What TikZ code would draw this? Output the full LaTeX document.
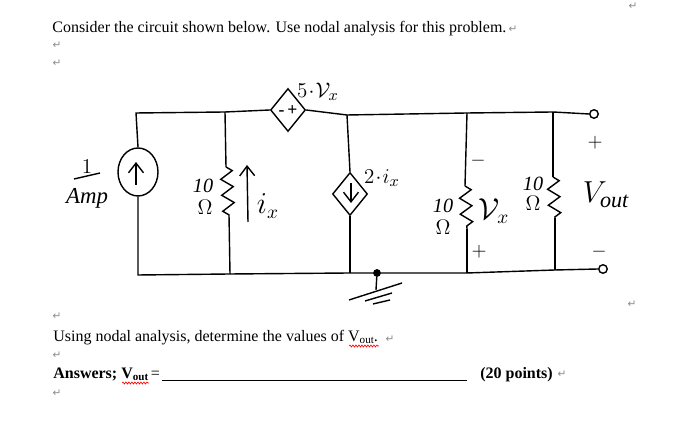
\documentclass[tikz,border=0pt]{standalone}
\usepackage{fontspec}
\setmainfont{Liberation Serif}
\newfontfamily\symfont{DejaVu Sans}
\usetikzlibrary{arrows.meta,shapes.geometric,decorations.pathmorphing}

\newcommand{\subout}{\raisebox{-0.9pt}{\fontsize{6.3}{7}\selectfont out}}

\tikzset{
	wire/.style={line width=0.8pt},
	ah/.style={-{Straight Barb[length=5.5pt,width=8.5pt]}},
	zig/.style={wire,decorate,decoration={zigzag,segment length=0.32cm,amplitude=0.12cm}},
	spell/.style={red,line width=0.35pt,decorate,decoration={snake,segment length=0.06cm,amplitude=0.02cm}},
	body/.style={anchor=base west,inner sep=0pt,font=\fontsize{9.1}{11}\selectfont},
	retmark/.style={inner sep=0pt,text=black!45,font=\symfont\fontsize{6}{7}\selectfont},
	hand/.style={inner sep=0pt,font=\fontsize{11.5}{14}\selectfont},
	depsrc/.style={draw,wire,diamond,inner sep=0pt,minimum width=0.7cm,minimum height=0.86cm},
	terminal/.style={draw,wire,circle,fill=white,inner sep=0pt,minimum size=0.17cm}
}

\begin{document}
\begin{tikzpicture}[x=0.02cm,y=-0.02cm]
	\useasboundingbox[fill=white] (0,0) rectangle (684,431);

	% page text
	\node[body] (line1) at (52,33) {Consider the circuit shown below. Use nodal analysis for this problem.};
	\node[body] (line2) at (53,342) {Using nodal analysis, determine the values of V\subout.};
	\node[body] (line3) at (53,379) {\textbf{Answers; V\subout}\hspace{-0.7pt} =};
	\node[body] (line4) at (480,379) {\textbf{(20 points)}};
	\coordinate (ruleL) at (162,380);
	\coordinate (ruleR) at (467,380);
	\draw[line width=0.5pt] (ruleL) -- (ruleR);
	\coordinate (sp1a) at (349,346);
	\coordinate (sp1b) at (379,346);
	\coordinate (sp2a) at (122,383);
	\coordinate (sp2b) at (149,383);
	\draw[spell] (sp1a) -- (sp1b);
	\draw[spell] (sp2a) -- (sp2b);
	\foreach \px/\py [count=\n] in {633/6,513/29,57/45,57/63,57/316,390/339,57/355,562/374,57/393,632/304}
		\node[retmark] (ret\n) at (\px,\py) {↵};

	% sources
	\node[draw,wire,ellipse,inner sep=0pt,minimum width=0.8cm,minimum height=0.96cm] (isrc) at (138,172) {};
	\node[depsrc] (vsrc) at (288,110) {};
	\node[inner sep=0pt,font=\fontsize{10}{11}\selectfont] (vsrcsign) at (288,111) {\textbf{-\,+}};
	\node[depsrc] (csrc) at (350,194) {};
	\coordinate (isrca) at (136,185);
	\coordinate (isrcb) at (136,162);
	\draw[wire,ah] (isrca) -- (isrcb);
	\coordinate (csrca) at (351,183);
	\coordinate (csrcb) at (351,203);
	\draw[wire,ah] (csrca) -- (csrcb);

	% terminals and ground dot
	\node[terminal] (outtop) at (594,114) {};
	\node[terminal] (outbot) at (603,269) {};
	\node[draw,circle,fill=black,inner sep=0pt,minimum size=0.14cm] (gnddot) at (377,273) {};

	% top rail
	\coordinate (tl) at (136,113);
	\coordinate (r1t) at (225,112);
	\coordinate (n1) at (347,115);
	\coordinate (r2t) at (467,113);
	\coordinate (r3t) at (553,112);
	\draw[wire] (isrc.north) -- (tl) -- (r1t) -- (vsrc.west);
	\draw[wire] (vsrc.east) -- (n1) -- (r2t) -- (r3t) -- (outtop.west);

	% bottom rail
	\coordinate (bl) at (138,275);
	\coordinate (r1b) at (230,274);
	\coordinate (n2) at (350,273);
	\coordinate (r2b) at (467,273);
	\coordinate (r3b) at (555,270);
	\draw[wire] (isrc.south) -- (bl) -- (r1b) -- (n2) -- (gnddot) -- (r2b) -- (r3b) -- (outbot.west);
	\draw[wire] (n1) -- (csrc.north);
	\draw[wire] (csrc.south) -- (n2);

	% resistors
	\coordinate (r1a) at (226,167);
	\coordinate (r1c) at (229,215);
	\draw[wire] (r1t) -- (r1a);
	\draw[zig] (r1a) -- (r1c);
	\draw[wire] (r1c) -- (r1b);
	\coordinate (r2a) at (465,186);
	\coordinate (r2c) at (467,229);
	\draw[wire] (r2t) -- (r2a);
	\draw[zig] (r2a) -- (r2c);
	\draw[wire] (r2c) -- (r2b);
	\coordinate (r3a) at (553,177);
	\coordinate (r3c) at (555,218);
	\draw[wire] (r3t) -- (r3a);
	\draw[zig] (r3a) -- (r3c);
	\draw[wire] (r3c) -- (r3b);

	% ground
	\coordinate (g0) at (376,290);
	\coordinate (g1a) at (349,300);
	\coordinate (g1b) at (402,283);
	\coordinate (g2a) at (365,301);
	\coordinate (g2b) at (392,293);
	\coordinate (g3a) at (373,304);
	\coordinate (g3b) at (390,300);
	\draw[wire] (gnddot) -- (g0);
	\draw[wire] (g1a) -- (g1b);
	\draw[wire] (g2a) -- (g2b);
	\draw[wire] (g3a) -- (g3b);

	% current arrow
	\coordinate (ixa) at (248,222);
	\coordinate (ixb) at (247,165);
	\draw[wire,ah] (ixa) -- (ixb);

	% handwritten labels
	\node[hand,font=\fontsize{13}{15}\selectfont] (onelab) at (87,167) {$1$};
	\coordinate (barl) at (74,179);
	\coordinate (barr) at (100,173);
	\draw[wire] (barl) -- (barr);
	\node[hand,font=\fontsize{13}{15}\selectfont] (amplab) at (87,198) {\textit{Amp}};
	\node[hand] (r1val) at (203,186) {\textit{10}};
	\node[hand] (r1ohm) at (205,207) {$\Omega$};
	\node[hand] (r2val) at (443,206) {\textit{10}};
	\node[hand] (r2ohm) at (443,227) {$\Omega$};
	\node[hand] (r3val) at (533,184) {\textit{10}};
	\node[hand] (r3ohm) at (533,203) {$\Omega$};
	\node[hand,font=\fontsize{16}{18}\selectfont] (ixlab) at (268,206) {$i_x$};
	\node[hand,font=\fontsize{13}{15}\selectfont] (vsrclab) at (318,92) {$5\!\cdot\!\mathcal{V}_x$};
	\node[hand,font=\fontsize{13}{15}\selectfont] (csrclab) at (382,178) {$2\!\cdot\! i_x$};
	\node[hand,font=\fontsize{16}{18}\selectfont] (vxlab) at (494,211) {$\mathcal{V}_x$};
	\node[hand,font=\fontsize{11}{13}\selectfont] (vxminus) at (478,161) {$-$};
	\node[hand,font=\fontsize{11}{13}\selectfont] (vxplus) at (479,252) {$+$};
	\node[hand,font=\fontsize{11}{13}\selectfont] (outplus) at (595,143) {$+$};
	\node[hand,font=\fontsize{11}{13}\selectfont] (outminus) at (599,252) {$-$};
	\node[hand,font=\fontsize{18}{20}\selectfont] (vout) at (606,195) {$V_{\mathit{out}}$};
\end{tikzpicture}
\end{document}
